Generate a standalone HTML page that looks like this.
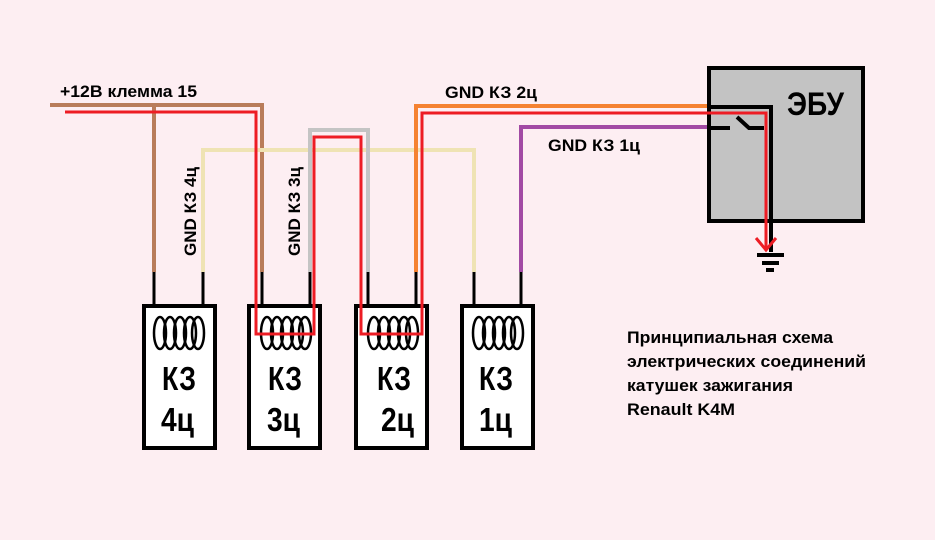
<!DOCTYPE html><html><head><meta charset="utf-8"><style>body{margin:0;background:#fdeef2}svg{display:block}text{font-family:"Liberation Sans",sans-serif;font-weight:bold}</style></head><body>
<svg width="935" height="540" viewBox="0 0 935 540">
<rect width="935" height="540" fill="#fdeef2"/>
<g fill="none" stroke-linejoin="miter">
<polyline points="50,105 262,105 262,272" stroke="#b97c5a" stroke-width="4"/>
<line x1="154" y1="105" x2="154" y2="272" stroke="#b97c5a" stroke-width="4"/>
<polyline points="203,272 203,150 474,150 474,272" stroke="#efe3b4" stroke-width="4"/>
<polyline points="310,272 310,130 368,130 368,272" stroke="#c4c4c4" stroke-width="4"/>
<polyline points="416,272 416,106 708,106" stroke="#f58232" stroke-width="4"/>
<polyline points="521,272 521,127 708,127" stroke="#a24aa4" stroke-width="4"/>
<g stroke="#000" stroke-width="3">
<line x1="154" y1="272" x2="154" y2="318"/><line x1="203" y1="272" x2="203" y2="318"/>
<line x1="262" y1="272" x2="262" y2="318"/><line x1="310" y1="272" x2="310" y2="318"/>
<line x1="368" y1="272" x2="368" y2="318"/><line x1="416" y1="272" x2="416" y2="318"/>
<line x1="474" y1="272" x2="474" y2="318"/><line x1="521" y1="272" x2="521" y2="318"/>
</g>
</g>
<g fill="#fff" stroke="#000" stroke-width="4">
<rect x="144" y="306" width="71" height="142"/><rect x="249" y="306" width="71" height="142"/>
<rect x="356" y="306" width="71" height="142"/><rect x="462" y="306" width="71" height="142"/>
</g>
<g fill="none" stroke="#000" stroke-width="2.5">
<g id="c"><ellipse cx="160" cy="333" rx="6" ry="16"/><ellipse cx="170" cy="333" rx="6" ry="16"/><ellipse cx="180" cy="333" rx="6" ry="16"/><ellipse cx="190" cy="333" rx="6" ry="16"/><ellipse cx="198" cy="333" rx="6" ry="16"/></g>
<use href="#c" x="107"/><use href="#c" x="214"/><use href="#c" x="319"/>
</g>
<rect x="709" y="68" width="154" height="153" fill="#c3c3c3" stroke="#000" stroke-width="4"/>
<g stroke="#000" stroke-width="4" fill="none">
<polyline points="707,107 771,107 771,252"/>
<line x1="707" y1="128" x2="730" y2="128"/>
<polyline points="737,117 749,128 764,128"/>
<line x1="757" y1="255" x2="784" y2="255"/>
<line x1="762" y1="263" x2="779" y2="263"/>
<line x1="766" y1="270" x2="774" y2="270"/>
</g>
<g fill="none" stroke="#ed1c24" stroke-width="3">
<polyline points="65,112 256,112 256,334 314,334 314,137 361,137 361,334 422,334 422,113 766,113 766,250"/>
<polyline points="756,238 766,250 776,238"/>
</g>
<text x="787" y="115" font-size="32" textLength="57" lengthAdjust="spacingAndGlyphs">ЭБУ</text>
<text x="60" y="97" font-size="17" textLength="137" lengthAdjust="spacingAndGlyphs">+12В клемма 15</text>
<text x="445" y="98" font-size="17" textLength="92" lengthAdjust="spacingAndGlyphs">GND КЗ 2ц</text>
<text x="548" y="151" font-size="17" textLength="92" lengthAdjust="spacingAndGlyphs">GND КЗ 1ц</text>
<text transform="translate(196,256) rotate(-90)" font-size="17" textLength="89" lengthAdjust="spacingAndGlyphs">GND КЗ 4ц</text>
<text transform="translate(300,256) rotate(-90)" font-size="17" textLength="89" lengthAdjust="spacingAndGlyphs">GND КЗ 3ц</text>
<g font-size="33">
<text x="162" y="390" textLength="34" lengthAdjust="spacingAndGlyphs">КЗ</text><text x="161" y="431" textLength="33" lengthAdjust="spacingAndGlyphs">4ц</text>
<text x="268" y="390" textLength="34" lengthAdjust="spacingAndGlyphs">КЗ</text><text x="267" y="431" textLength="33" lengthAdjust="spacingAndGlyphs">3ц</text>
<text x="377" y="390" textLength="34" lengthAdjust="spacingAndGlyphs">КЗ</text><text x="381" y="431" textLength="33" lengthAdjust="spacingAndGlyphs">2ц</text>
<text x="479" y="390" textLength="34" lengthAdjust="spacingAndGlyphs">КЗ</text><text x="479" y="431" textLength="33" lengthAdjust="spacingAndGlyphs">1ц</text>
</g>
<g font-size="17" lengthAdjust="spacingAndGlyphs">
<text x="627" y="343" textLength="206" lengthAdjust="spacingAndGlyphs">Принципиальная схема</text>
<text x="627" y="367" textLength="239" lengthAdjust="spacingAndGlyphs">электрических соединений</text>
<text x="627" y="391" textLength="166" lengthAdjust="spacingAndGlyphs">катушек зажигания</text>
<text x="627" y="415" textLength="108" lengthAdjust="spacingAndGlyphs">Renault K4M</text>
</g>
</svg></body></html>
